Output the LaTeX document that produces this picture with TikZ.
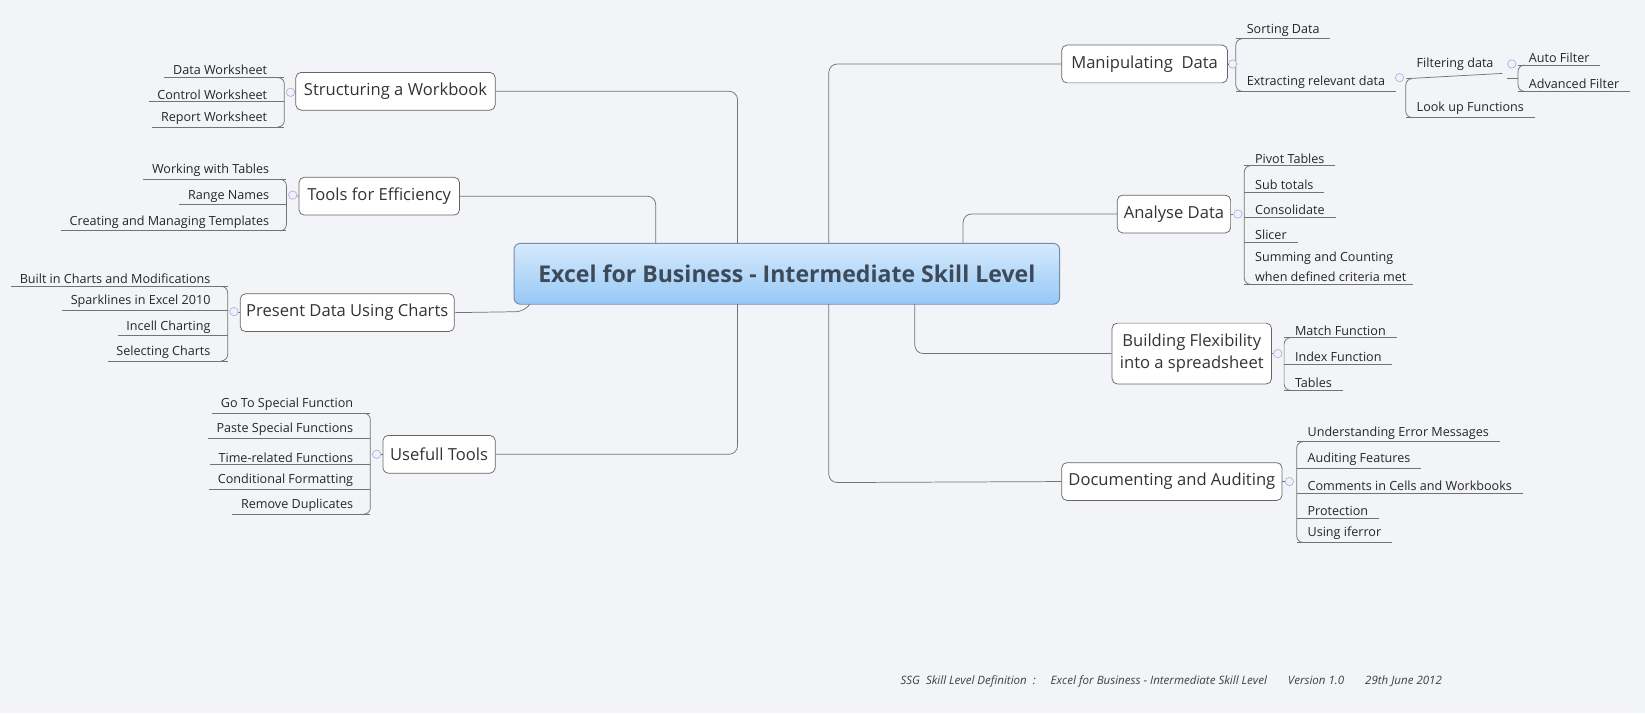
\documentclass[tikz,border=0pt]{standalone}
\usepackage{fontspec}
\setmainfont{Open Sans}
\begin{document}
\begin{tikzpicture}[x=0.5pt,y=-0.5pt,
  conn/.style={draw=black!55,line width=0.35pt},
  main/.style={draw=black!60,line width=0.35pt,fill=white,rounded corners=2.5pt,font=\fontsize{7.9}{10}\selectfont,text=black!80,inner sep=0pt,align=center},
  leaf/.style={font=\fontsize{6}{7}\selectfont,text=black!85,inner sep=1pt,align=left},
  knob/.style={circle,draw=blue!25!gray!50,fill=blue!6,line width=0.3pt,minimum size=4pt,inner sep=0pt}]
\fill[fill={rgb,255:red,242;green,244;blue,248}] (0,0) rectangle (1568,680);
\useasboundingbox (0,0) rectangle (1568,680);
\newcommand\lleaf[4]{\node[leaf,anchor=south east] (#1) at ({#2-14},{#3}) {#4};
  \draw[conn] ([xshift=-3pt]#1.south west) -- (#2,#3);}
\newcommand\rleaf[4]{\node[leaf,anchor=south west] (#1) at ({#2+8},{#3}) {#4};
  \draw[conn] (#2,#3) -- ([xshift=4pt]#1.south east);}
% central
\node[draw={rgb,255:red,120;green,140;blue,170},line width=0.45pt,rounded corners=3pt,minimum width=260pt,minimum height=29pt,inner sep=0pt,
  top color={rgb,255:red,214;green,234;blue,252},bottom color={rgb,255:red,150;green,200;blue,246},
  font=\bfseries\fontsize{11}{13}\selectfont,text={rgb,255:red,60;green,74;blue,90}] (c) at (750,261)
  {Excel for Business - Intermediate Skill Level};
% main nodes
\node[main,minimum width=95pt,minimum height=18pt] (s) at (377,87) {Structuring a Workbook};
\node[main,minimum width=76.5pt,minimum height=18pt] (t) at (361.5,187) {Tools for Efficiency};
\node[main,minimum width=102pt,minimum height=18pt] (p) at (331,298) {Present Data Using Charts};
\node[main,minimum width=53.5pt,minimum height=18pt] (u) at (418.5,433) {Usefull Tools};
\node[main,minimum width=79pt,minimum height=18pt] (m) at (1091,61) {Manipulating\ \ Data};
\node[main,minimum width=54pt,minimum height=18pt] (a) at (1119,204) {Analyse Data};
\node[main,minimum width=76pt,minimum height=29pt,font=\fontsize{7.9}{10.5}\selectfont] (b) at (1136,337) {Building Flexibility\\into a spreadsheet};
\node[main,minimum width=105pt,minimum height=18pt] (d) at (1117,459) {Documenting and Auditing};
% connectors from center
\begin{scope}[rounded corners=4pt]
\draw[conn] (s.east) -- (703,87) -- (703,232);
\draw[conn] (u.east) -- (703,433) -- (703,290);
\draw[conn] (t.east) -- (625,187) -- (625,232);
\draw[conn] (p.east) -- (500,297) -- (505,290);
\draw[conn] (m.west) -- (790,61) -- (790,232);
\draw[conn] (d.west) -- (790,460) -- (790,290);
\draw[conn] (a.west) -- (918,204) -- (918,232);
\draw[conn] (b.west) -- (872,337) -- (872,290);
\end{scope}
% Structuring
\lleaf{s1}{271}{74}{Data Worksheet}
\lleaf{s2}{271}{97}{Control Worksheet}
\lleaf{s3}{271}{121}{Report Worksheet}
\draw[conn,rounded corners=3pt] (265,74) -- (271,74) -- (271,121) -- (265,121);
\node[knob] (sk) at (277,88) {}; \draw[conn] (sk) -- (s.west);
% Tools
\lleaf{t1}{273}{171}{Working with Tables}
\lleaf{t2}{273}{195}{Range Names}
\lleaf{t3}{273}{220}{Creating and Managing Templates}
\draw[conn,rounded corners=3pt] (267,171) -- (273,171) -- (273,220) -- (267,220);
\node[knob] (tk) at (279,186) {}; \draw[conn] (tk) -- (t.west);
% Present
\lleaf{p1}{217}{273}{Built in Charts and Modifications}
\lleaf{p2}{217}{296}{Sparklines in Excel 2010}
\lleaf{p3}{217}{320}{Incell Charting}
\lleaf{p4}{217}{344}{Selecting Charts}
\draw[conn,rounded corners=3pt] (211,273) -- (217,273) -- (217,344) -- (211,344);
\node[knob] (pk) at (223,297) {}; \draw[conn] (pk) -- (p.west);
% Usefull
\lleaf{u1}{353}{394}{Go To Special Function}
\lleaf{u2}{353}{418}{Paste Special Functions}
\lleaf{u3}{353}{443}{Time-related Functions}
\lleaf{u4}{353}{466}{Conditional Formatting}
\lleaf{u5}{353}{490}{Remove Duplicates}
\draw[conn,rounded corners=3pt] (347,394) -- (353,394) -- (353,490) -- (347,490);
\node[knob] (uk) at (359,433) {}; \draw[conn] (uk) -- (u.west);
% Manipulating
\rleaf{m1}{1178}{37}{Sorting Data}
\rleaf{m2}{1178}{87}{Extracting relevant data}
\draw[conn,rounded corners=3pt] (1184,37) -- (1178,37) -- (1178,87) -- (1184,87);
\node[knob] (mk) at (1175,61) {}; \draw[conn] (mk) -- (m.east);
\node[knob] (m2k) at (1334,74) {};
\node[leaf,anchor=south west] (f1) at (1348,70) {Filtering data};
\draw[conn] (1340,75) -- ([xshift=3pt]f1.south east);
\rleaf{f2}{1340}{112}{Look up Functions}
\draw[conn,rounded corners=3pt] (1346,75) -- (1340,75) -- (1340,112) -- (1346,112);
\node[knob] (fk) at (1441,61) {};
\rleaf{g1}{1447}{62}{Auto Filter}
\rleaf{g2}{1447}{87}{Advanced Filter}
\draw[conn,rounded corners=3pt] (1453,62) -- (1447,62) -- (1447,87) -- (1453,87);
\draw[conn] (1436,75) -- (1447,75);
% Analyse
\rleaf{a1}{1186}{158}{Pivot Tables}
\rleaf{a2}{1186}{183}{Sub totals}
\rleaf{a3}{1186}{207}{Consolidate}
\rleaf{a4}{1186}{231}{Slicer}
\node[leaf,anchor=south west,font=\fontsize{6}{9.5}\selectfont] (a5) at (1194,271) {Summing and Counting\\when defined criteria met};
\draw[conn] (1186,271) -- ([xshift=2pt]a5.south east);
\draw[conn,rounded corners=3pt] (1192,158) -- (1186,158) -- (1186,271) -- (1192,271);
\node[knob] (ak) at (1180,204) {}; \draw[conn] (ak) -- (a.east);
% Building
\rleaf{b1}{1224}{322}{Match Function}
\rleaf{b2}{1224}{347}{Index Function}
\rleaf{b3}{1224}{372}{Tables}
\draw[conn,rounded corners=3pt] (1230,322) -- (1224,322) -- (1224,372) -- (1230,372);
\node[knob] (bk) at (1218,337) {}; \draw[conn] (bk) -- (b.east);
% Documenting
\rleaf{d1}{1236}{421}{Understanding Error Messages}
\rleaf{d2}{1236}{446}{Auditing Features}
\rleaf{d3}{1236}{470}{Comments in Cells and Workbooks}
\rleaf{d4}{1236}{494}{Protection}
\rleaf{d5}{1236}{517}{Using iferror}
\draw[conn,rounded corners=3pt] (1242,421) -- (1236,421) -- (1236,517) -- (1242,517);
\node[knob] (dk) at (1229,459) {}; \draw[conn] (dk) -- (d.east);
% footer
\node[anchor=west,inner sep=0pt,font=\itshape\fontsize{5.5}{7}\selectfont,text=black!75] (foot) at (858,650)
 {SSG\ \ Skill Level Definition\ \ :\ \ \ \ \ Excel for Business - Intermediate Skill Level\ \ \ \ \ \ \ Version 1.0\ \ \ \ \ \ \ 29th June 2012};
\end{tikzpicture}
\end{document}
